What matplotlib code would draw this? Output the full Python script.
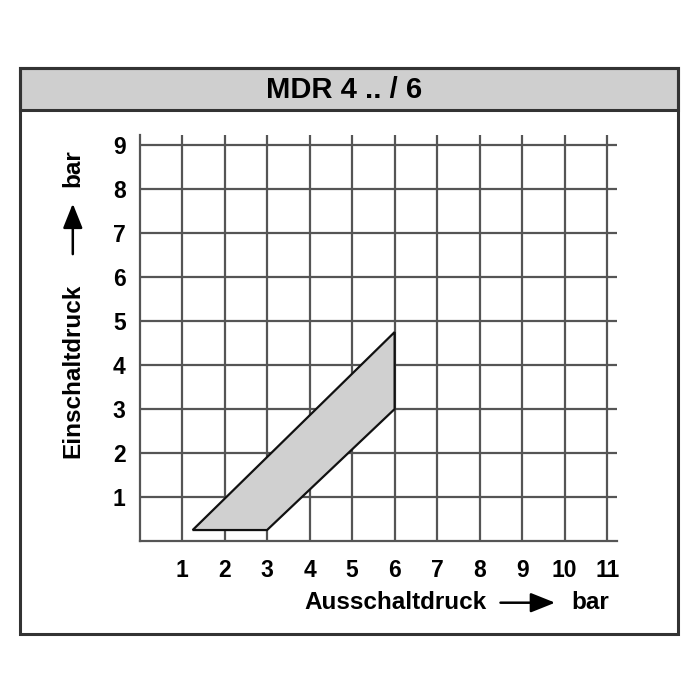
import matplotlib.pyplot as plt
from matplotlib.patches import Rectangle, Polygon, FancyArrowPatch

plt.rcParams['font.family'] = ['Liberation Sans', 'DejaVu Sans']

# Operating range (Ausschaltdruck, Einschaltdruck) in bar
range_x = [1.25, 3.0, 6.0, 6.0]
range_y = [0.25, 0.25, 3.0, 4.75]
x_ticks = [1, 2, 3, 4, 5, 6, 7, 8, 9, 10, 11]
y_ticks = [1, 2, 3, 4, 5, 6, 7, 8, 9]
title = "MDR 4 .. / 6"

fig = plt.figure(figsize=(7, 7), dpi=100)
ax = fig.add_axes([0.1993, 0.2271, 0.6821, 0.58])

ax.add_patch(Polygon(list(zip(range_x, range_y)), closed=True,
                     facecolor='#d0d0d0', edgecolor='#111111', lw=1.6, zorder=3))

ax.set_xlim(0, 11.23)
ax.set_ylim(0, 9.23)
ax.set_xticks(x_ticks)
ax.set_yticks(y_ticks)
ax.grid(True, color='#555555', lw=1.6, zorder=1)
ax.set_axisbelow(True)
for s in ['top', 'right']:
    ax.spines[s].set_visible(False)
for s in ['left', 'bottom']:
    ax.spines[s].set_color('#555555')
    ax.spines[s].set_linewidth(1.6)
ax.tick_params(length=0, labelsize=16.5)
ax.tick_params(axis='x', pad=13)
ax.tick_params(axis='y', pad=10)
for lbl in ax.get_xticklabels() + ax.get_yticklabels():
    lbl.set_fontweight('bold')

# outer frame and title bar
fig.add_artist(Rectangle((0.0286, 0.843), 0.94, 0.06, transform=fig.transFigure,
                         facecolor='#cfcfcf', edgecolor='#333333', lw=2.2))
fig.add_artist(Rectangle((0.0286, 0.0943), 0.94, 0.8087, transform=fig.transFigure,
                         facecolor='none', edgecolor='#333333', lw=2.2))
fig.text(0.492, 0.872, title, ha='center', va='center', fontsize=21, fontweight='bold')

# x label with arrow
fig.text(0.435, 0.139, "Ausschaltdruck", ha='left', va='center', fontsize=17.5, fontweight='bold')
fig.text(0.816, 0.139, "bar", ha='left', va='center', fontsize=17.5, fontweight='bold')
fig.add_artist(FancyArrowPatch((0.711, 0.139), (0.797, 0.139), transform=fig.transFigure,
                               arrowstyle='-|>,head_length=10,head_width=4', mutation_scale=1.5,
                               color='black', lw=1.8))

# y label with arrow
fig.text(0.104, 0.345, "Einschaltdruck", ha='center', va='bottom', rotation=90,
         fontsize=17.5, fontweight='bold')
fig.text(0.104, 0.733, "bar", ha='center', va='bottom', rotation=90,
         fontsize=17.5, fontweight='bold')
fig.add_artist(FancyArrowPatch((0.104, 0.633), (0.104, 0.713), transform=fig.transFigure,
                               arrowstyle='-|>,head_length=10,head_width=4', mutation_scale=1.5,
                               color='black', lw=1.8))

fig.savefig('out.png', dpi=100)
